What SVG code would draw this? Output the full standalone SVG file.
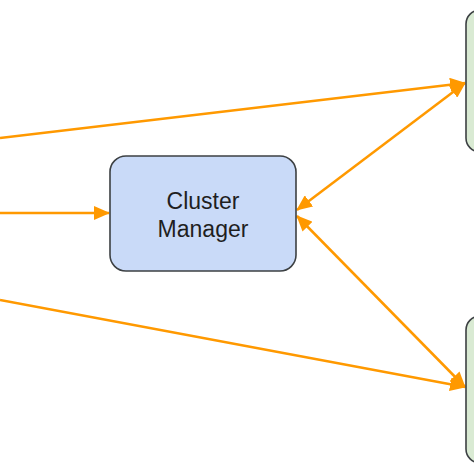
<svg xmlns="http://www.w3.org/2000/svg" width="474" height="474" viewBox="0 0 474 474">
<defs>
<style>
.edge{stroke:#FF9900;stroke-width:2.5;fill:none}
.cm{fill:#C9DAF8;stroke:#3C4043;stroke-width:1.6}
.wk{fill:#D9EAD3;stroke:#3C4043;stroke-width:1.6}
.lbl{font-family:"Liberation Sans",Arial,sans-serif;font-size:23px;fill:#1F1F1F;text-anchor:middle}
</style>
<marker id="ah" markerUnits="userSpaceOnUse" markerWidth="16" markerHeight="14" refX="15" refY="7" orient="auto-start-reverse" viewBox="0 0 16 14">
<path d="M0,0 L16,7 L0,14 Z" fill="#FF9900"/>
</marker>
</defs>
<rect width="474" height="474" fill="#FFFFFF"/>
<g id="connectors">
<line class="edge" x1="0" y1="138" x2="465" y2="83" marker-end="url(#ah)"/>
<line class="edge" x1="0" y1="213" x2="109" y2="213" marker-end="url(#ah)"/>
<line class="edge" x1="0" y1="300" x2="465" y2="387" marker-end="url(#ah)"/>
<line class="edge" x1="465" y1="83" x2="297" y2="210" marker-start="url(#ah)" marker-end="url(#ah)"/>
<line class="edge" x1="297" y1="216" x2="465" y2="387" marker-start="url(#ah)" marker-end="url(#ah)"/>
</g>
<g id="cluster-manager">
<rect class="cm" x="110" y="156" width="186" height="115" rx="16" ry="16"/>
<text class="lbl" x="203" y="209">Cluster</text>
<text class="lbl" x="203" y="237">Manager</text>
</g>
<g id="worker-top">
<rect class="wk" x="466" y="10" width="40" height="142" rx="14" ry="14"/>
</g>
<g id="worker-bottom">
<rect class="wk" x="466" y="316" width="40" height="147" rx="14" ry="14"/>
</g>
</svg>
